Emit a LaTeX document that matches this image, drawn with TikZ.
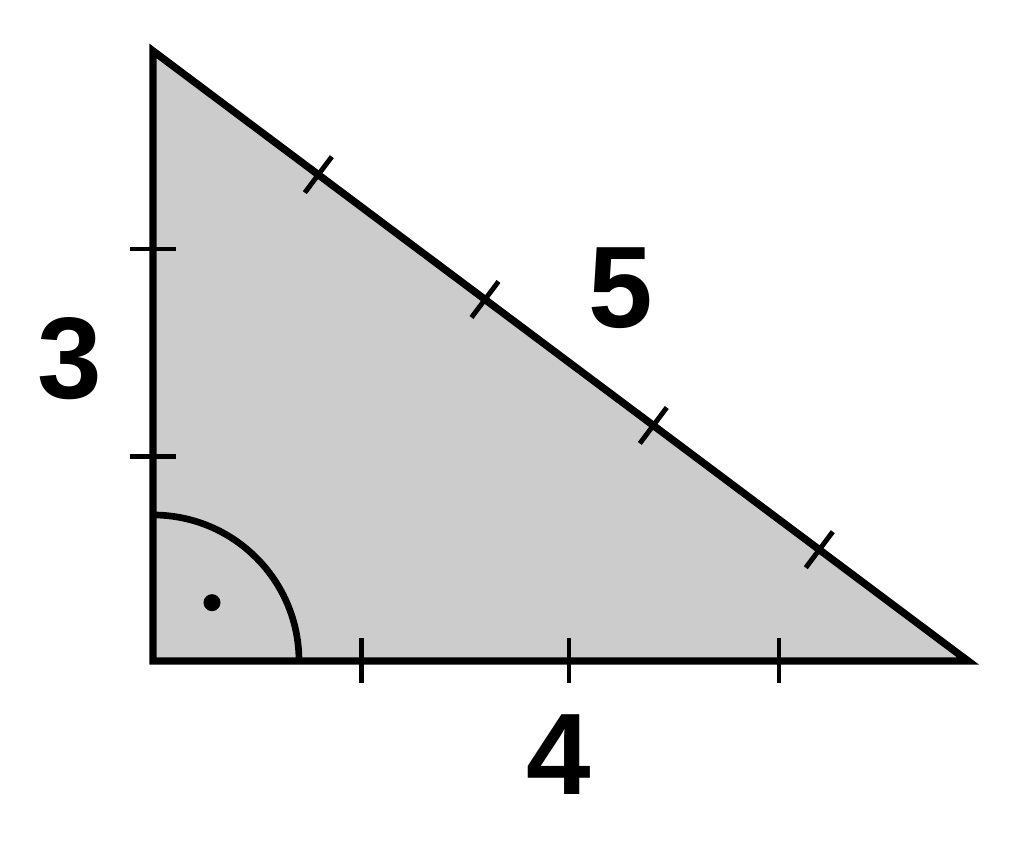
\documentclass[tikz,border=0pt]{standalone}
\usepackage{fontspec}
\setmainfont{Liberation Sans}

\begin{document}
\begin{tikzpicture}
[line width=2.1pt,
leg/.style={draw=black, fill=gray!40, line join=miter},
tick/.style={draw=black, line width=1.4pt},
rightangle/.style={draw=black, line width=1.9pt},
len/.style={inner sep=0pt, font=\fontsize{33}{33}\selectfont\bfseries}
]

\useasboundingbox (0,0) rectangle (10.24,8.41);

\coordinate (A) at (1.53,7.90);
\coordinate (B) at (1.53,1.80);
\coordinate (C) at (9.68,1.80);

\draw[leg] (A) -- (B) -- (C) -- cycle;

\draw[rightangle] (2.99,1.80) arc[start angle=0, end angle=90, radius=1.46];
\fill (2.12,2.383) circle (0.085);

\foreach \y in {3.843,5.92} {
  \draw[tick] (1.305,\y) -- (1.755,\y);
}
\foreach \x in {3.617,5.69,7.79} {
  \draw[tick] (\x,1.575) -- (\x,2.025);
}
\foreach \x/\y in {3.183/6.663, 4.85/5.415, 6.533/4.155, 8.193/2.913} {
  \draw[tick] (\x-0.135,\y-0.18) -- (\x+0.135,\y+0.18);
}

\node[len] (len3) at (0.695,4.82) {3};
\node[len] (len4) at (5.59,0.863) {4};
\node[len] (len5) at (6.205,5.525) {5};

\end{tikzpicture}
\end{document}
